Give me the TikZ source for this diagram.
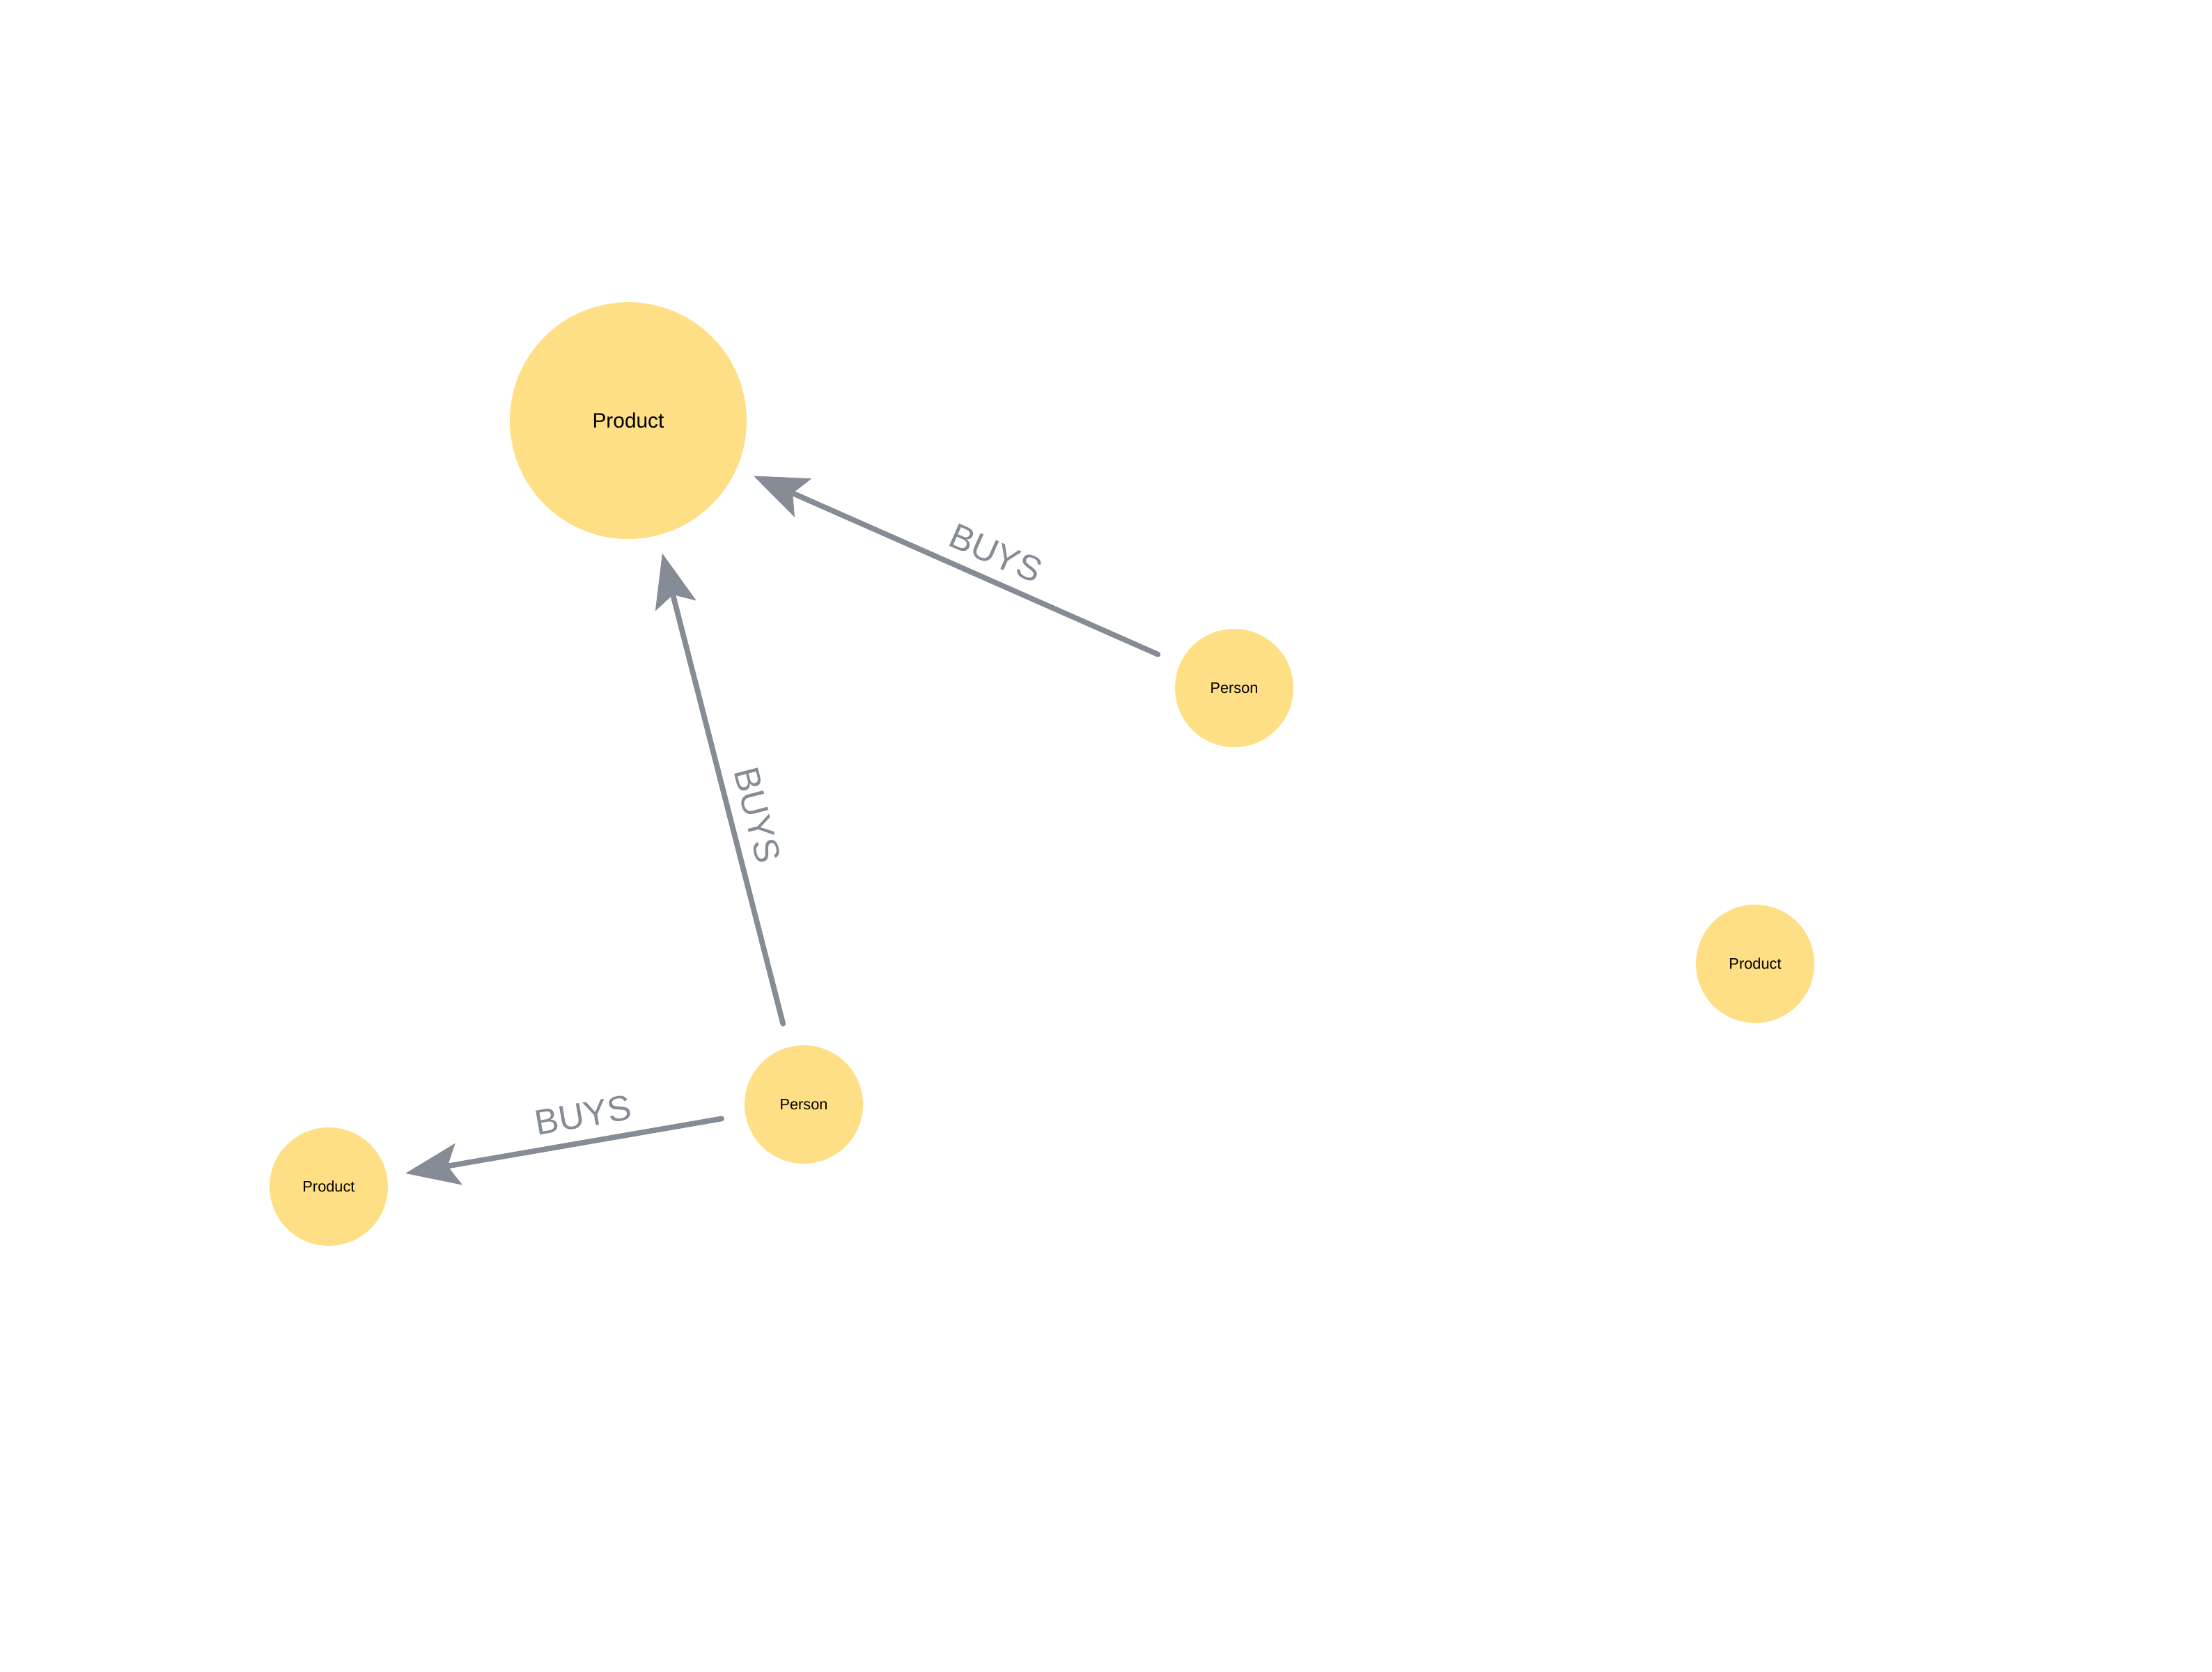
\documentclass[tikz,border=0pt]{standalone}
\usepackage{fontspec}
\setmainfont{Liberation Sans}
\usetikzlibrary{arrows.meta}
\definecolor{nodefill}{HTML}{FFDF85}
\definecolor{edgegray}{HTML}{868C95}
\begin{document}
\begin{tikzpicture}[x=0.02cm, y=-0.02cm,
    bignode/.style={circle, fill=nodefill, inner sep=0pt, minimum size=3.4cm, font=\fontsize{8.5}{10}\selectfont},
    smallnode/.style={circle, fill=nodefill, inner sep=0pt, minimum size=1.7cm, font=\fontsize{6.2}{7}\selectfont},
    buys/.style={-{Stealth[length=22pt, width=17pt, inset=4.5pt]}, edgegray, line width=2.2pt, line cap=round, shorten <=0.34cm, shorten >=0.26cm},
    buyslabel/.style={pos=0.44, sloped, above=1.5pt, text=edgegray, font=\fontsize{14.5}{16}\selectfont}]
    \useasboundingbox (0,0) rectangle (1588,1200);

    \node[bignode] (prodbig) at (451,302) {Product};
    \node[smallnode] (personA) at (886,494) {Person};
    \node[smallnode] (personB) at (577,793) {Person};
    \node[smallnode] (prodleft) at (236,852) {Product};
    \node[smallnode] (prodright) at (1260,692) {Product};

    \draw[buys] (personA) -- (prodbig) node[buyslabel] {BUYS};
    \draw[buys] (personB) -- (prodbig) node[buyslabel] {BUYS};
    \draw[buys] (personB) -- (prodleft) node[buyslabel] {BUYS};
\end{tikzpicture}
\end{document}
